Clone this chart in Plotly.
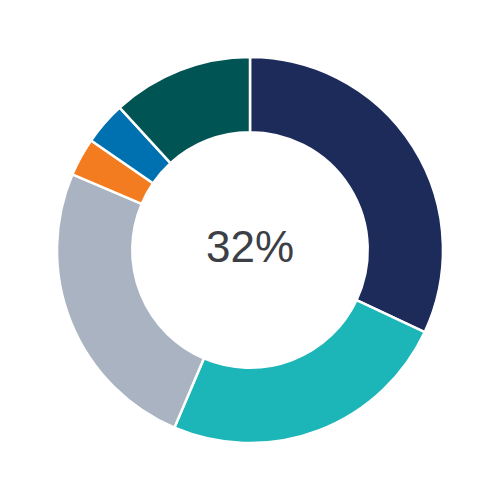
import plotly.graph_objects as go

labels = ['A', 'B', 'C', 'D', 'E', 'F']
values = [32, 24.4, 25, 3.2, 3.6, 11.8]
colors = ['#1c2b5a', '#1cb5b8', '#a9b3c1', '#f47c20', '#0071b0', '#005454']
center_text = '32%'

fig = go.Figure(go.Pie(
    labels=labels,
    values=values,
    hole=0.61,
    sort=False,
    direction='clockwise',
    rotation=0,
    marker=dict(colors=colors, line=dict(color='white', width=2.5)),
    textinfo='none',
    hoverinfo='skip',
))
fig.add_annotation(text=center_text, x=0.5, y=0.508, xref='paper', yref='paper',
                   showarrow=False, font=dict(family='Arial', size=44, color='#3c3f46'))
# page body has an 8px margin, so size the figure to 484 and keep it centred
fig.update_layout(width=484, height=484, showlegend=False,
                  margin=dict(l=49, r=49, t=49, b=49),
                  paper_bgcolor='white', plot_bgcolor='white')
fig.write_html("out.html")
